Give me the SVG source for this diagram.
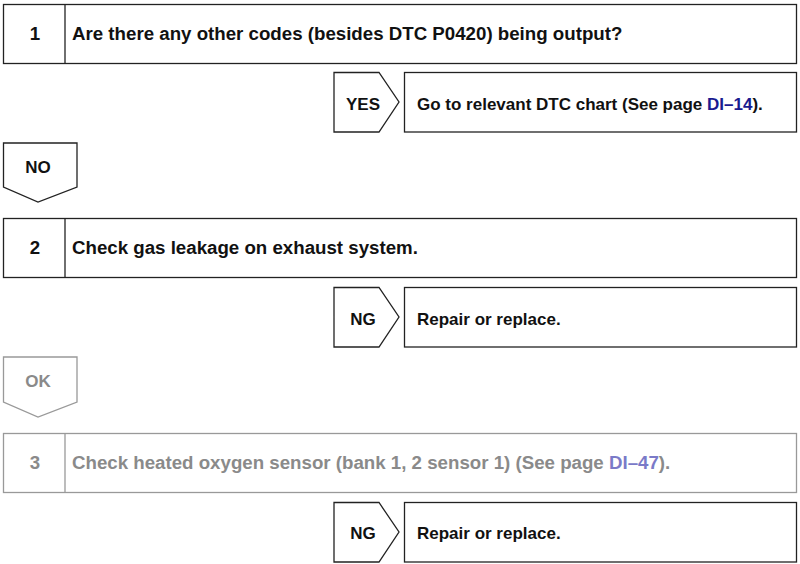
<svg xmlns="http://www.w3.org/2000/svg" width="800" height="564" viewBox="0 0 800 564">
<style>
.box{fill:#fff;stroke:#222;stroke-width:1.3}
.fbox{fill:#fff;stroke:#999;stroke-width:1.3}
.t{font-family:"Liberation Sans",Arial,sans-serif;font-weight:bold;fill:#111}
.big{font-size:18.7px}
.sm{font-size:17px}
.num{text-anchor:middle}
.faded{fill:#8a8a8a}
.link{fill:#1a1a90}
.flink{fill:#7a7ac8}
</style>
<rect width="800" height="564" fill="#fff"/>
<g id="step1">
<rect class="box" x="3.5" y="4.5" width="793" height="59"/>
<line class="box" x1="65" y1="4.5" x2="65" y2="63.5"/>
<text class="t big num" x="35" y="39.5">1</text>
<text class="t big" x="72" y="39.5">Are there any other codes (besides DTC P0420) being output?</text>
</g>
<g id="yes">
<polygon class="box" points="334,72.5 379,72.5 399,102 379,132 334,132"/>
<text class="t sm num" x="363" y="109.5">YES</text>
</g>
<g id="result1">
<rect class="box" x="404.5" y="72.5" width="392" height="59.5"/>
<text class="t sm" x="417" y="109.5">Go to relevant DTC chart (See page <tspan class="link">DI–14</tspan>).</text>
</g>
<g id="no">
<polygon class="box" points="3.5,143 77,143 77,187 38,202 3.5,187"/>
<text class="t sm num" x="38" y="172.5">NO</text>
</g>
<g id="step2">
<rect class="box" x="3.5" y="218.5" width="793" height="59"/>
<line class="box" x1="65" y1="218.5" x2="65" y2="277.5"/>
<text class="t big num" x="35" y="254">2</text>
<text class="t big" x="72" y="254">Check gas leakage on exhaust system.</text>
</g>
<g id="ng1">
<polygon class="box" points="334,287.5 379,287.5 399,317 379,347 334,347"/>
<text class="t sm num" x="363" y="324.5">NG</text>
</g>
<g id="result2">
<rect class="box" x="404.5" y="287.5" width="392" height="59.5"/>
<text class="t sm" x="417" y="324.5">Repair or replace.</text>
</g>
<g id="ok">
<polygon class="fbox" points="3.5,357 77,357 77,402 38,417 3.5,402"/>
<text class="t sm num faded" x="38" y="386.5">OK</text>
</g>
<g id="step3">
<rect class="fbox" x="3.5" y="433.5" width="793" height="59"/>
<line class="fbox" x1="65" y1="433.5" x2="65" y2="492.5"/>
<text class="t big num faded" x="35" y="469">3</text>
<text class="t big faded" x="72" y="469">Check heated oxygen sensor (bank 1, 2 sensor 1) (See page <tspan class="flink">DI–47</tspan>).</text>
</g>
<g id="ng2">
<polygon class="box" points="334,502.5 379,502.5 399,532 379,562 334,562"/>
<text class="t sm num" x="363" y="539">NG</text>
</g>
<g id="result3">
<rect class="box" x="404.5" y="502.5" width="392" height="59.5"/>
<text class="t sm" x="417" y="539">Repair or replace.</text>
</g>
<g id="connectors"></g>
</svg>
